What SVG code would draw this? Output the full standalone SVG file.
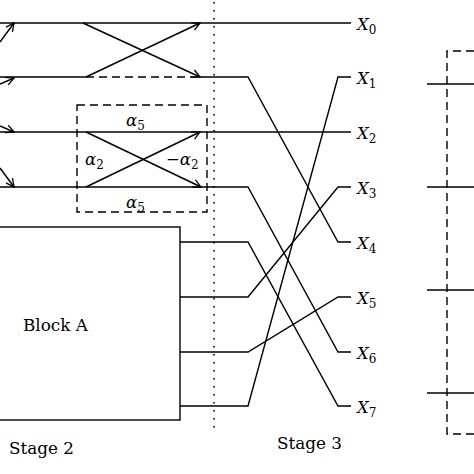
<svg xmlns="http://www.w3.org/2000/svg" width="474" height="474" viewBox="0 0 474 474">
<style>
.w{stroke:#000;stroke-width:1.4;fill:none}
.d{stroke:#000;stroke-width:1.4;fill:none;stroke-dasharray:8 5}
.dot{stroke:#000;stroke-width:1.6;fill:none;stroke-dasharray:1.6 6.4}
text{font-family:"DejaVu Serif","Liberation Serif",serif;fill:#000}
.t{font-size:16.8px}
.x{font-size:16.5px;font-style:italic}
.s{font-size:12px;font-style:normal}
</style>
<defs>
<marker id="ah" viewBox="0 0 10 10" refX="9" refY="5" markerWidth="10" markerHeight="10" markerUnits="userSpaceOnUse" orient="auto">
<path d="M1,1 L9,5 L1,9" fill="none" stroke="#000" stroke-width="1.3"/>
</marker>
</defs>
<rect width="474" height="474" fill="#fff"/>
<g id="connectors">
<line class="w" x1="0" y1="42" x2="14" y2="23" marker-end="url(#ah)"/>
<line class="w" x1="0" y1="84" x2="14" y2="78" marker-end="url(#ah)"/>
<line class="w" x1="0" y1="126" x2="14" y2="132" marker-end="url(#ah)"/>
<line class="w" x1="0" y1="168" x2="14" y2="187" marker-end="url(#ah)"/>
<line class="w" x1="0" y1="23" x2="351" y2="23"/>
<polyline class="w" points="0,77 86,77"/>
<line class="d" x1="86" y1="77" x2="199" y2="77"/>
<polyline class="w" points="199,77 248,77 338,242 351,242"/>
<line class="w" x1="0" y1="132" x2="351" y2="132"/>
<polyline class="w" points="0,187 248,187 338,352 351,352"/>
<line class="w" x1="83" y1="23" x2="200" y2="77" marker-end="url(#ah)"/>
<line class="w" x1="86" y1="77" x2="200" y2="23" marker-end="url(#ah)"/>
<line class="w" x1="86" y1="132" x2="201" y2="187" marker-end="url(#ah)"/>
<line class="w" x1="86" y1="187" x2="200" y2="132" marker-end="url(#ah)"/>
<polyline class="w" points="180,242 248,242 338,406 351,406"/>
<polyline class="w" points="180,297 248,297 338,187 351,187"/>
<polyline class="w" points="180,352 248,352 338,297 351,297"/>
<polyline class="w" points="180,406 248,406 338,77 351,77"/>
<line class="dot" x1="214" y1="2" x2="214" y2="434"/>
<line class="w" x1="427" y1="84" x2="474" y2="84"/>
<line class="w" x1="427" y1="187" x2="474" y2="187"/>
<line class="w" x1="427" y1="290" x2="474" y2="290"/>
<line class="w" x1="427" y1="393" x2="474" y2="393"/>
</g>
<g id="butterfly-box">
<rect class="d" x="77" y="105" width="130" height="107"/>
<text class="x" x="126" y="126">α<tspan class="s" dy="4">5</tspan></text>
<text class="x" x="126" y="208">α<tspan class="s" dy="4">5</tspan></text>
<text class="x" x="85" y="165">α<tspan class="s" dy="4">2</tspan></text>
<text class="x" x="166" y="165"><tspan font-style="normal">−</tspan>α<tspan class="s" dy="4">2</tspan></text>
</g>
<g id="block-a">
<rect class="w" x="-2" y="227" width="182" height="193"/>
<text class="t" x="23" y="331">Block A</text>
</g>
<g id="right-box">
<path class="d" d="M474,51 L447,51 L447,434 L474,434"/>
</g>
<g id="outputs">
<text class="x" x="357" y="30">X<tspan class="s" dy="4">0</tspan></text>
<text class="x" x="357" y="84">X<tspan class="s" dy="4">1</tspan></text>
<text class="x" x="357" y="139">X<tspan class="s" dy="4">2</tspan></text>
<text class="x" x="357" y="194">X<tspan class="s" dy="4">3</tspan></text>
<text class="x" x="357" y="249">X<tspan class="s" dy="4">4</tspan></text>
<text class="x" x="357" y="304">X<tspan class="s" dy="4">5</tspan></text>
<text class="x" x="357" y="359">X<tspan class="s" dy="4">6</tspan></text>
<text class="x" x="357" y="413">X<tspan class="s" dy="4">7</tspan></text>
</g>
<g id="stages">
<text class="t" x="9" y="454">Stage 2</text>
<text class="t" x="277" y="449">Stage 3</text>
</g>
</svg>
